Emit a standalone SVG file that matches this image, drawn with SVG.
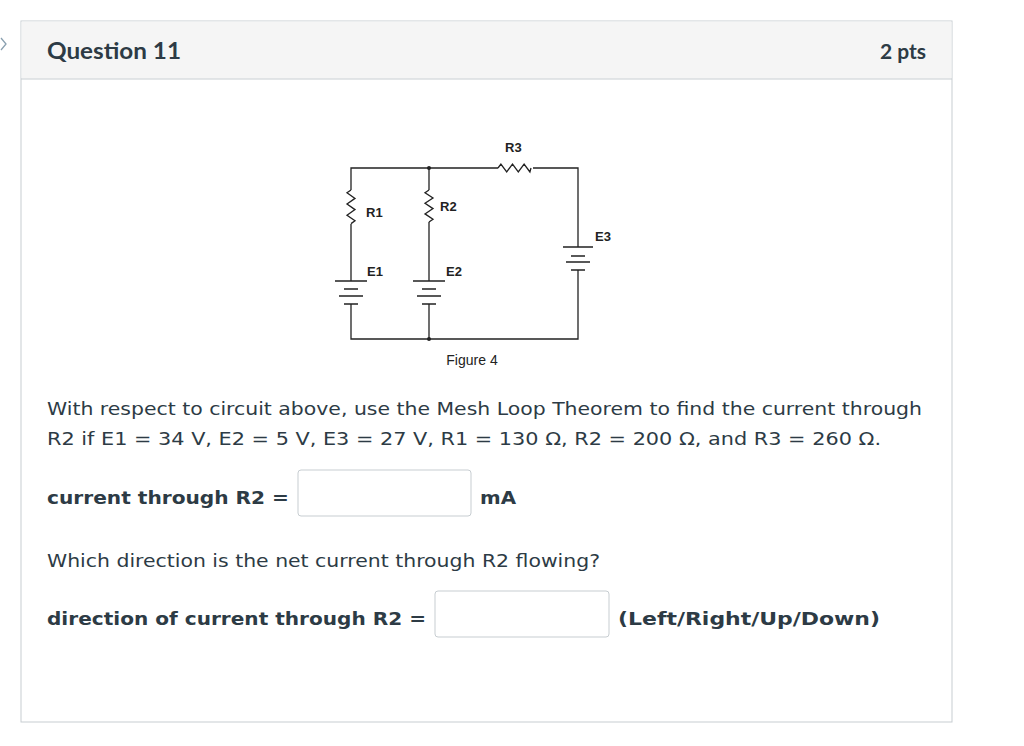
<svg xmlns="http://www.w3.org/2000/svg" width="1024" height="746" viewBox="0 0 1024 746">
<style>
.w{stroke:#222;stroke-width:1.3;fill:none}
.l{font-family:Arial,"Liberation Sans",sans-serif;font-size:13px;font-weight:bold;fill:#222}
.t{font-family:"DejaVu Sans",Verdana,sans-serif;font-size:18px;fill:#2d3b45}
.b{font-family:"DejaVu Sans",Verdana,sans-serif;font-size:18px;font-weight:bold;fill:#2d3b45}
.in{fill:#fff;stroke:#c7cdd1;stroke-width:1}
</style>
<rect width="1024" height="746" fill="#fff"/>
<path d="M1,38 L6,44 L1,50" fill="none" stroke="#8aa0b0" stroke-width="1.3"/>
<g id="panel">
<rect x="21" y="21" width="931" height="701" fill="#fff" stroke="#c7cdd1"/>
<rect x="21.5" y="21.5" width="930" height="57" fill="#f5f5f5" stroke="none"/>
<line x1="21" y1="79" x2="952" y2="79" stroke="#c7cdd1"/>
<text x="47" y="59" font-family="Lato,'Open Sans',sans-serif" font-size="23" font-weight="bold" fill="#2d3b45" textLength="134" lengthAdjust="spacingAndGlyphs">Question 11</text>
<text x="926" y="59" text-anchor="end" font-family="Lato,'Open Sans',sans-serif" font-size="21" font-weight="bold" fill="#2d3b45">2 pts</text>
</g>
<g id="connectors">
<path class="w" d="M351,190 V168 H498 M533,168 H578 V247 M578,270 V339 H351 V304 M351,281 V224 M429,168 V190 M429,222 V281 M429,304 V339"/>
</g>
<g id="R1"><path class="w" d="M351,190 l-4,2.8 l8,5.6 l-8,5.6 l8,5.6 l-8,5.6 l8,5.6 l-4,2.8"/><text class="l" x="366" y="217">R1</text></g>
<g id="R2"><path class="w" d="M429,190 l-4,2.7 l8,5.3 l-8,5.3 l8,5.3 l-8,5.3 l8,5.3 l-4,2.8"/><text class="l" x="440" y="211">R2</text></g>
<g id="R3"><path class="w" d="M498,168 l2.9,-4 l5.8,8 l5.8,-8 l5.8,8 l5.8,-8 l5.8,8 l1.1,-4"/><text class="l" x="505" y="152">R3</text></g>
<g id="E1"><path class="w" d="M335,281 h32 M344,289 h14 M339,296 h24 M344,304 h14"/><text class="l" x="367" y="276">E1</text></g>
<g id="E2"><path class="w" d="M413,281 h32 M422,289 h14 M417,296 h24 M422,304 h14"/><text class="l" x="446" y="276">E2</text></g>
<g id="E3"><path class="w" d="M563,247 h30 M571,256 h14 M566,262 h24 M571,270 h14"/><text class="l" x="595" y="241">E3</text></g>
<circle cx="429" cy="168" r="2" fill="#222"/><circle cx="429" cy="339" r="2" fill="#222"/>
<text x="472" y="365" text-anchor="middle" font-family="Arial,'Liberation Sans',sans-serif" font-size="14" fill="#222">Figure 4</text>
<text class="t" x="47" y="415" textLength="875" lengthAdjust="spacingAndGlyphs">With respect to circuit above, use the Mesh Loop Theorem to find the current through</text>
<text class="t" x="47" y="445" textLength="834" lengthAdjust="spacingAndGlyphs">R2 if E1 = 34 V, E2 = 5 V, E3 = 27 V,  R1 = 130 Ω, R2 = 200 Ω, and R3 = 260 Ω.</text>
<text class="b" x="47" y="504" textLength="242" lengthAdjust="spacingAndGlyphs">current through R2 =</text>
<rect class="in" x="298" y="470" width="173" height="46" rx="3"/>
<text class="b" x="480" y="504" textLength="36" lengthAdjust="spacingAndGlyphs">mA</text>
<text class="t" x="47" y="567" textLength="553" lengthAdjust="spacingAndGlyphs">Which direction is the net current through R2 flowing?</text>
<text class="b" x="47" y="625" textLength="379" lengthAdjust="spacingAndGlyphs">direction of current through R2 =</text>
<rect class="in" x="435" y="591" width="174" height="46" rx="3"/>
<text class="b" x="618" y="625" textLength="262" lengthAdjust="spacingAndGlyphs">(Left/Right/Up/Down)</text>
</svg>
